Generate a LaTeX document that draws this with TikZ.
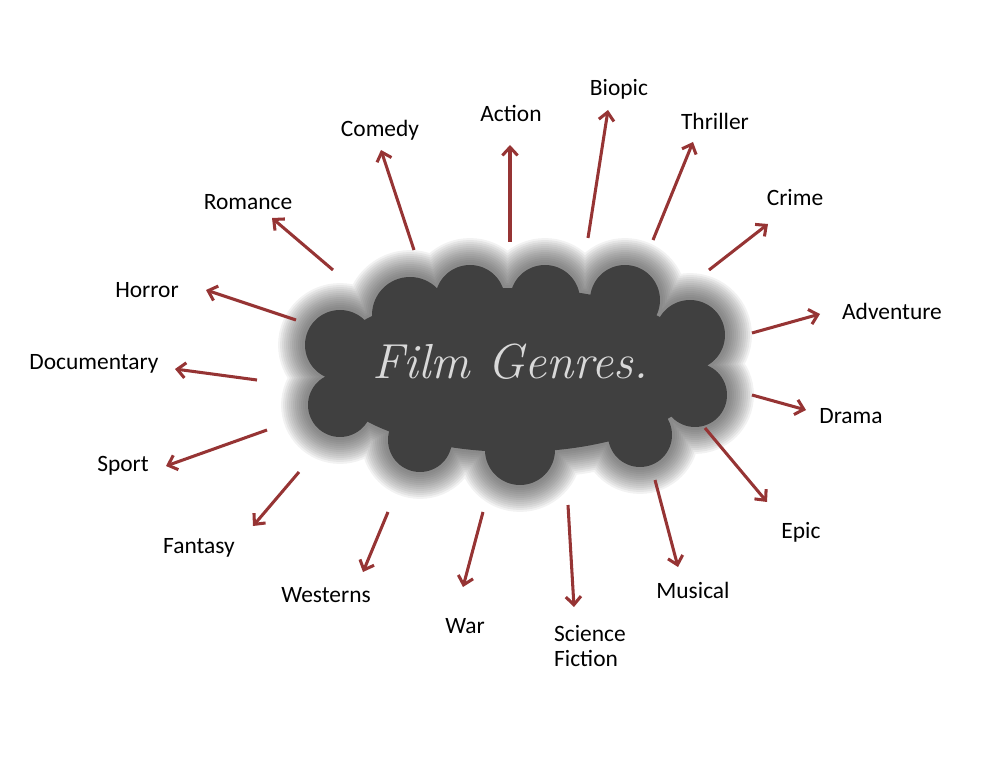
\documentclass[tikz,border=0pt]{standalone}
\usepackage{fontspec}
\setmainfont{Carlito}
\usetikzlibrary{arrows.meta}
\definecolor{arr}{RGB}{150,52,52}
\definecolor{cl}{RGB}{64,64,64}
\tikzset{
 gen/.style={arr,line width=2.6pt,-{Straight Barb[length=7pt,width=13pt,line width=2.6pt]}},
 lab/.style={font=\fontsize{20}{22}\selectfont,inner sep=0pt,align=left}
}
\def\cloudpath{
 (515,370) ellipse [x radius=190, y radius=82]
 (410,315) circle[radius=38] (470,300) circle[radius=35] (545,300) circle[radius=35]
 (625,300) circle[radius=35] (690,335) circle[radius=35] (695,395) circle[radius=32]
 (640,435) circle[radius=32] (520,450) circle[radius=35] (420,440) circle[radius=32]
 (340,405) circle[radius=32] (340,345) circle[radius=35]}
\begin{document}
\begin{tikzpicture}[x=0.03cm,y=-0.03cm]
\useasboundingbox (0,0) rectangle (1001,767);
\foreach \w in {54,50,...,6}{
  \draw[cl,line width=\w*0.85pt,draw opacity=0.07] \cloudpath;}
\fill[cl] \cloudpath;
\node[font=\fontspec{Latin Modern Roman}\itshape\fontsize{42}{46}\selectfont,text=gray!30] (t) at (510,362) {Film Genres.};
% labels
\node[lab] (comedy) at (380,130) {Comedy};
\node[lab] (action) at (511,113) {Action};
\node[lab] (biopic) at (619,89) {Biopic};
\node[lab] (thriller) at (715,121) {Thriller};
\node[lab] (crime) at (795,198) {Crime};
\node[lab] (adv) at (892,311) {Adventure};
\node[lab] (drama) at (851,416) {Drama};
\node[lab] (epic) at (801,532) {Epic};
\node[lab] (musical) at (693,590) {Musical};
\node[lab] (scifi) at (590,646) {Science\\Fiction};
\node[lab] (war) at (465,626) {War};
\node[lab] (west) at (326,595) {Westerns};
\node[lab] (fant) at (199,548) {Fantasy};
\node[lab] (sport) at (123,466) {Sport};
\node[lab] (doc) at (94,364) {Documentary};
\node[lab] (horror) at (147,290) {Horror};
\node[lab] (rom) at (248,202) {Romance};
% arrows
\foreach \a/\b/\c/\d/\n in {414/250/381/150/a1,510/242/510/145/a2,588/238/608/110/a3,653/240/693/142/a4,709/270/768/224/a5,752/333/820/314/a6,752/395/806/410/a7,705/428/767/502/a8,655/480/678/567/a9,568/505/574/607/a10,483/512/463/587/a11,388/512/363/572/a12,299/472/253/526/a13,267/430/166/466/a14,257/380/175/369/a15,296/320/206/290/a16,333/270/272/218/a17}{
  \coordinate (\n s) at (\a,\b); \coordinate (\n e) at (\c,\d);
  \draw[gen] (\n s) -- (\n e);}
\end{tikzpicture}
\end{document}
